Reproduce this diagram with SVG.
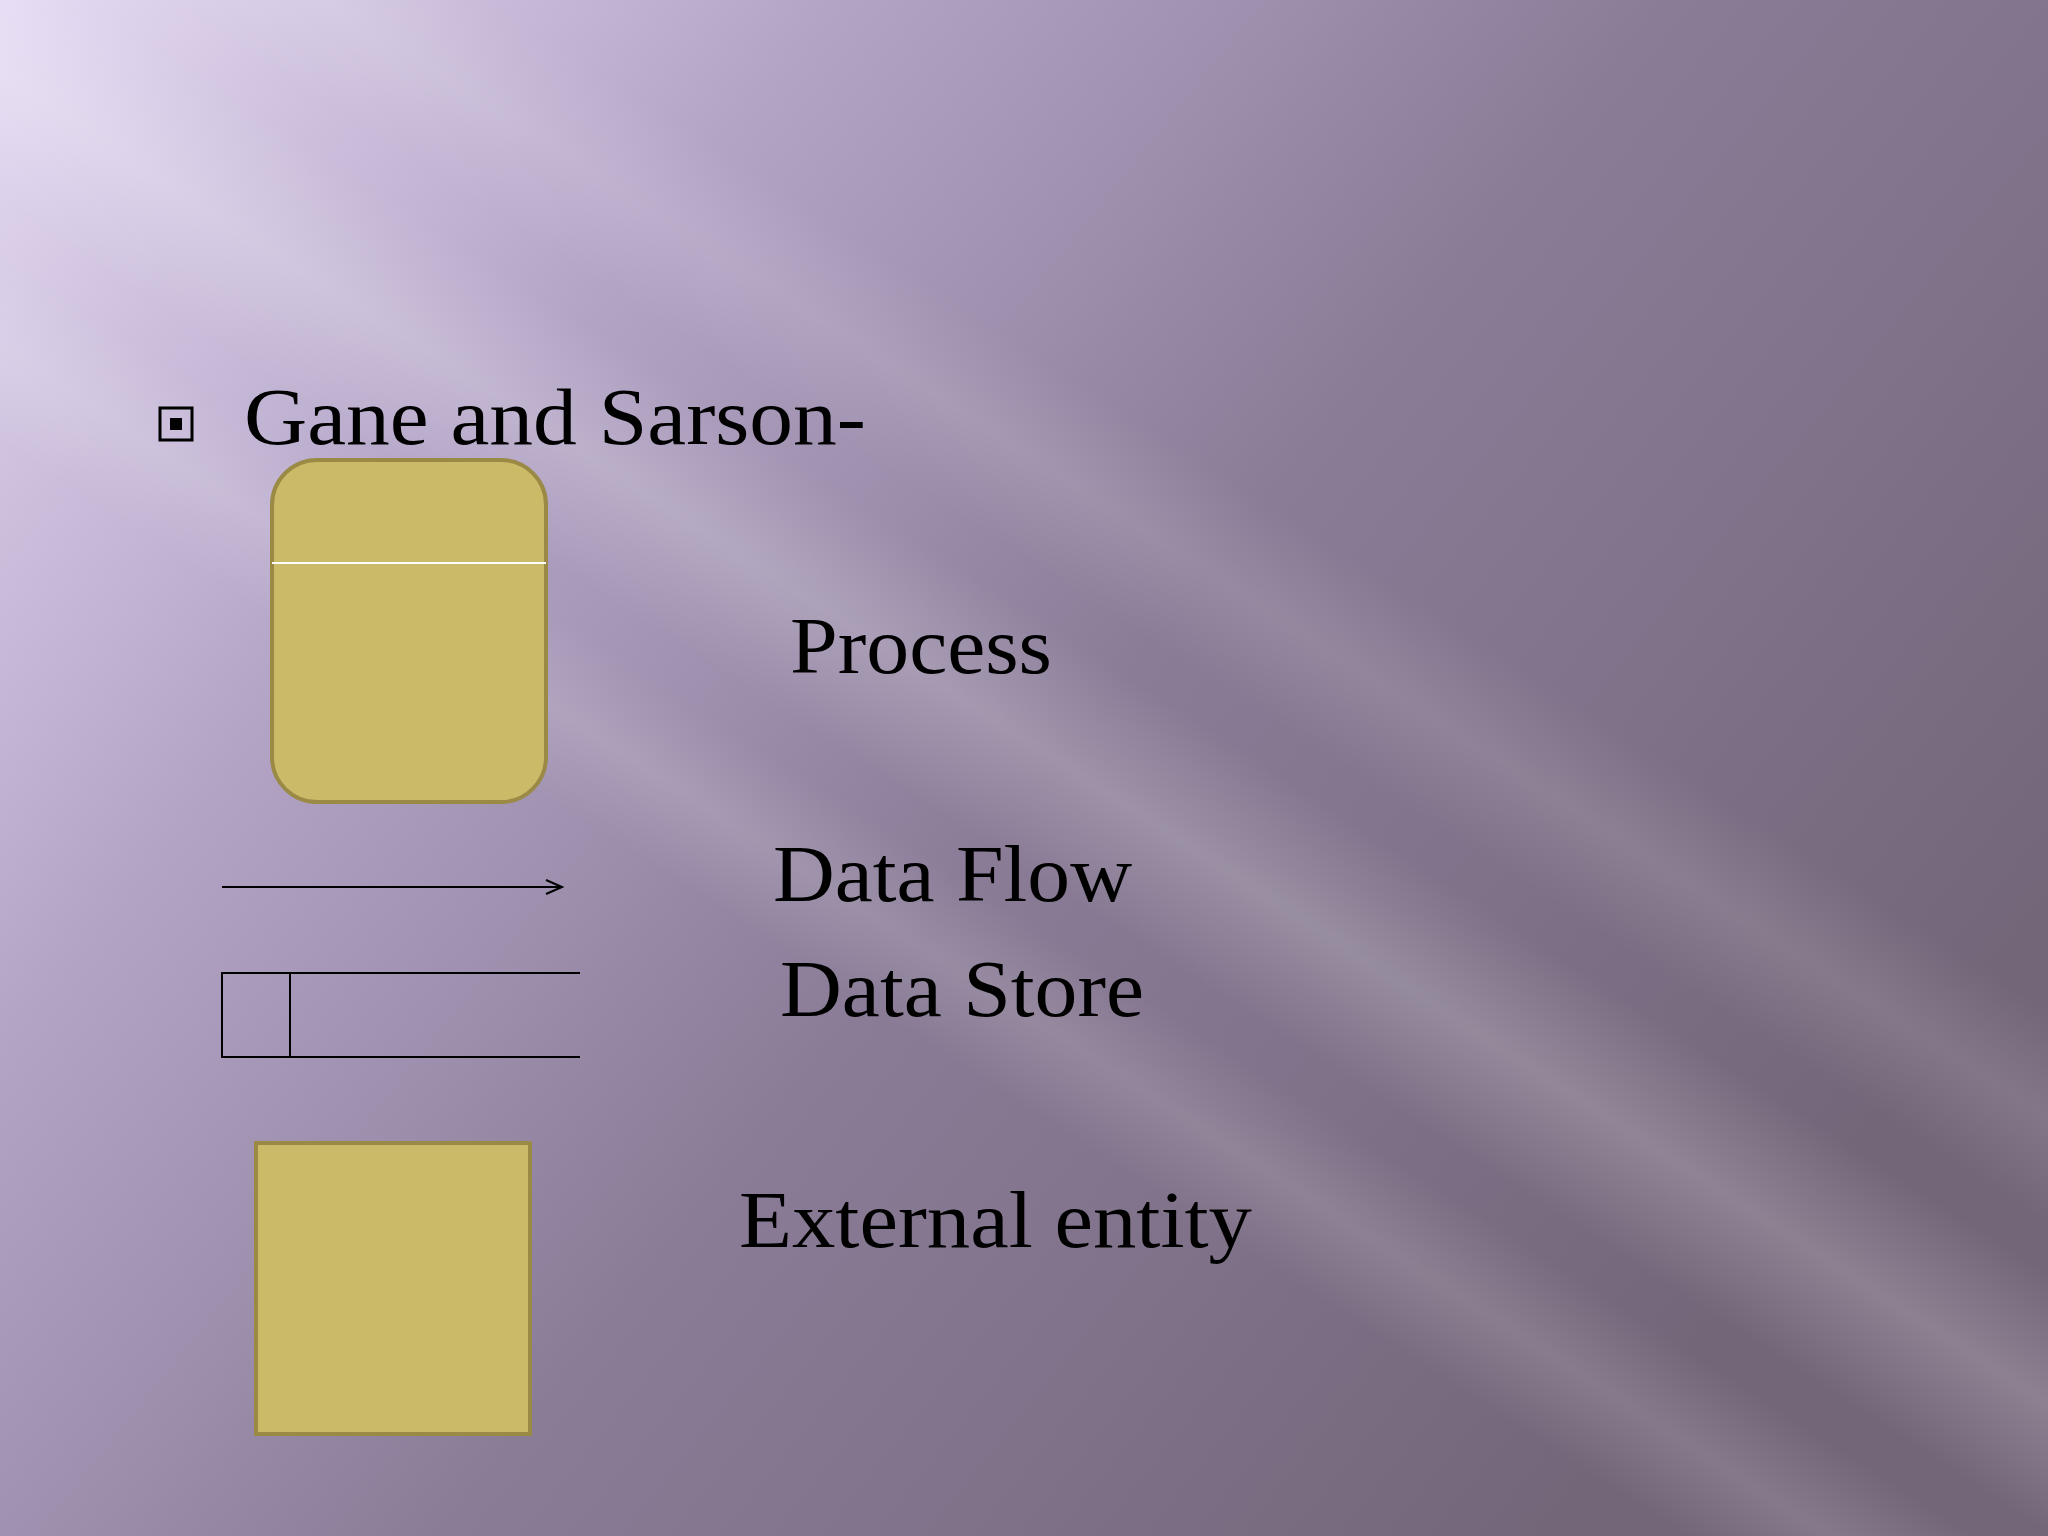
<svg xmlns="http://www.w3.org/2000/svg" width="2048" height="1536" viewBox="0 0 2048 1536">
<defs>
<linearGradient id="bg" x1="0" y1="0" x2="1" y2="0.6">
<stop offset="0" stop-color="#e6dbf4"/>
<stop offset="0.3" stop-color="#b3a4c6"/>
<stop offset="0.6" stop-color="#8a7c97"/>
<stop offset="1" stop-color="#736679"/>
</linearGradient>
<linearGradient id="streak" x1="0" y1="0" x2="0" y2="1">
<stop offset="0" stop-color="#fff" stop-opacity="0"/>
<stop offset="0.5" stop-color="#fff" stop-opacity="0.18"/>
<stop offset="1" stop-color="#fff" stop-opacity="0"/>
</linearGradient>
<marker id="arr" markerWidth="20" markerHeight="20" refX="18" refY="8" orient="auto" markerUnits="userSpaceOnUse">
<path d="M2,1 L18,8 L2,15" fill="none" stroke="#000" stroke-width="2"/>
</marker>
<style>
.t{font-family:"Liberation Serif","DejaVu Serif",serif;font-size:80px;fill:#000}
.sh{fill:#cbbb68;stroke:#9a8a45;stroke-width:4}
.ln{fill:none;stroke:#000;stroke-width:2}
</style>
</defs>
<rect width="2048" height="1536" fill="url(#bg)"/>
<g transform="rotate(33 800 700)">
<rect x="-1500" y="500" width="4500" height="220" fill="url(#streak)"/>
<rect x="-1500" y="760" width="4500" height="160" fill="url(#streak)" opacity="0.7"/>
<rect x="-1500" y="280" width="4500" height="180" fill="url(#streak)" opacity="0.6"/>
</g>
<g id="title">
<rect x="160" y="408" width="32" height="32" fill="none" stroke="#000" stroke-width="3"/>
<rect x="170" y="418" width="12" height="12" fill="#000"/>
<text class="t" x="244" y="444" textLength="622" lengthAdjust="spacingAndGlyphs">Gane and Sarson-</text>
</g>
<g id="process">
<rect class="sh" x="272" y="460" width="274" height="342" rx="45"/>
<line x1="272" y1="563" x2="546" y2="563" stroke="#fff" stroke-width="2"/>
<text class="t" x="790" y="673" textLength="262" lengthAdjust="spacingAndGlyphs">Process</text>
</g>
<g id="connectors">
<line class="ln" x1="222" y1="887" x2="562" y2="887" marker-end="url(#arr)"/>
</g>
<g id="dataflow"><text class="t" x="773" y="901" textLength="359" lengthAdjust="spacingAndGlyphs">Data Flow</text></g>
<g id="datastore">
<path class="ln" d="M580,973 H222 V1057 H580 M290,973 V1057"/>
<text class="t" x="780" y="1016" textLength="364" lengthAdjust="spacingAndGlyphs">Data Store</text>
</g>
<g id="external">
<rect class="sh" x="256" y="1143" width="274" height="291"/>
<text class="t" x="739" y="1247" textLength="513" lengthAdjust="spacingAndGlyphs">External entity</text>
</g>
</svg>
